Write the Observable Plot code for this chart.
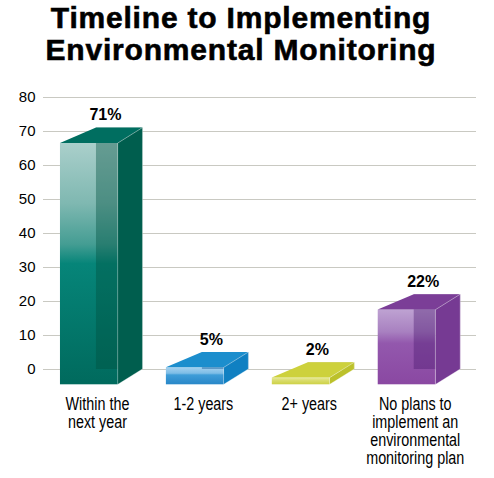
<!DOCTYPE html>
<html>
<head>
<meta charset="utf-8">
<script src="https://cdn.jsdelivr.net/npm/d3@7"></script>
<script src="https://cdn.jsdelivr.net/npm/@observablehq/plot@0.6"></script>
<style>
  body { margin: 0; background: #fff; }
  #title {
    height: 80px; box-sizing: border-box; padding: 2px 12px 0 0;
    font-family: "Liberation Sans", Arial, sans-serif; font-weight: bold;
    font-size: 30px; line-height: 32px; letter-spacing: 0.8px;
    text-align: center; color: #000; -webkit-text-stroke: 0.6px #000;
  }
</style>
</head>
<body>
<div id="title">Timeline to Implementing<br>Environmental Monitoring</div>
<div id="myplot"></div>
<script>
const categories = ["Within the\nnext year", "1-2 years", "2+ years", "No plans to\nimplement an\nenvironmental\nmonitoring plan"];
const values = [71, 5, 2, 22];
const yTicks = [0, 10, 20, 30, 40, 50, 60, 70, 80];

// face colours, one per bar
const frontStops = [
  [[0, "#aacfcb"], [0.25, "#7fb8b1"], [0.42, "#449d93"], [0.5, "#068579"], [1, "#006a5d"]],
  [[0, "#a5d2f0"], [0.35, "#7dbde6"], [0.45, "#3f9dd8"], [1, "#2887c8"]],
  [[0, "#e8eaa0"], [0.4, "#dadd6e"], [1, "#cdd145"]],
  [[0, "#bea2d2"], [0.3, "#a880c0"], [0.45, "#9358ad"], [1, "#8a48a2"]]
];
const backTint = ["#00503f", "#004a8c", "#8a8c10", "#4a1870"];
const topColors = ["#006e60", "#1c8ecd", "#cdd13c", "#7b3e97"];
const sideColors = ["#005e4e", "#1080c2", "#bcc12b", "#763a93"];

// gradients live in a hidden svg so url(#id) works inside the plot
const defs = d3.select("body").append("svg")
  .attr("width", 0).attr("height", 0).style("position", "absolute")
  .append("defs");
frontStops.forEach((stops, k) => {
  const g = defs.append("linearGradient").attr("id", "front" + k)
    .attr("x1", 0).attr("y1", 0).attr("x2", 0).attr("y2", 1);
  stops.forEach(([o, c]) => g.append("stop").attr("offset", o).attr("stop-color", c));
});

// layout
const width = 494, height = 398;
const mL = 43, mR = 18, mT = 17, mB = 109;
const xDomain = [-0.434, 3.654];
const kx = (width - mL - mR) / (xDomain[1] - xDomain[0]);   // px per category
const ky = (height - mT - mB) / 80;                         // px per percent
// box shape in px, turned into data units
const half = 29 / kx, backL = 7 / kx, backR = 53.5 / kx, depth = 15.3 / ky;

const bars = values.map((v, i) => ({i, value: v, label: categories[i]}));

const topPts = bars.flatMap(d => [
  {i: d.i, y: d.value - depth, xa: d.i - half, xb: d.i + half},
  {i: d.i, y: d.value, xa: d.i + backL, xb: d.i + backR}
]);
const sidePts = bars.flatMap(d => [
  {i: d.i, x: d.i + half, ya: -depth, yb: d.value - depth},
  {i: d.i, x: d.i + backR, ya: 0, yb: d.value}
]);

const plot = Plot.plot({
  width, height,
  marginLeft: mL, marginRight: mR, marginTop: mT, marginBottom: mB,
  style: {fontFamily: "Liberation Sans, Arial, sans-serif", fontSize: "15px", color: "#000", background: "#fff"},
  x: {domain: xDomain, axis: null},
  y: {domain: [0, 80], ticks: yTicks, tickSize: 0, tickPadding: 8, label: null},
  color: {type: "identity"},
  marks: [
    Plot.ruleY(yTicks, {stroke: "#c9c9c2", strokeWidth: 1.2}),
    // front face
    Plot.rect(bars, {x1: d => d.i - half, x2: d => d.i + half, y1: -depth, y2: d => d.value - depth,
      fill: d => `url(#front${d.i})`}),
    // back face seen through the glass
    Plot.rect(bars, {x1: d => d.i + backL, x2: d => d.i + backR, y1: 0, y2: "value",
      fill: d => backTint[d.i], fillOpacity: 0.4}),
    // top face
    Plot.area(topPts, {x1: "xa", x2: "xb", y1: "y", z: "i", fill: d => topColors[d.i]}),
    // right side face
    Plot.area(sidePts, {x1: "x", y1: "ya", y2: "yb", z: "i", fill: d => sideColors[d.i],
      stroke: "#ffffff", strokeOpacity: 0.45, strokeWidth: 0.8}),
    Plot.text(bars, {x: "i", y: "value", text: d => d.value + "%", dx: 16, dy: -8,
      lineAnchor: "bottom", fontWeight: "bold", fontSize: 16, fill: "#000"}),
    Plot.text(bars, {x: "i", y: 0, text: "label", dx: 8, dy: 28, lineAnchor: "top", lineHeight: 1.02,
      fontSize: 17.5, fill: "#000"})
  ]
});

// the category labels are set in a narrow face: squeeze them horizontally
const textGroups = plot.querySelectorAll('g[aria-label="text"]');
d3.select(textGroups[textGroups.length - 1]).selectAll("text")
  .attr("transform", function () { return (this.getAttribute("transform") || "") + " scale(0.82,1)"; });

document.querySelector("#myplot").append(plot);
</script>
</body>
</html>
